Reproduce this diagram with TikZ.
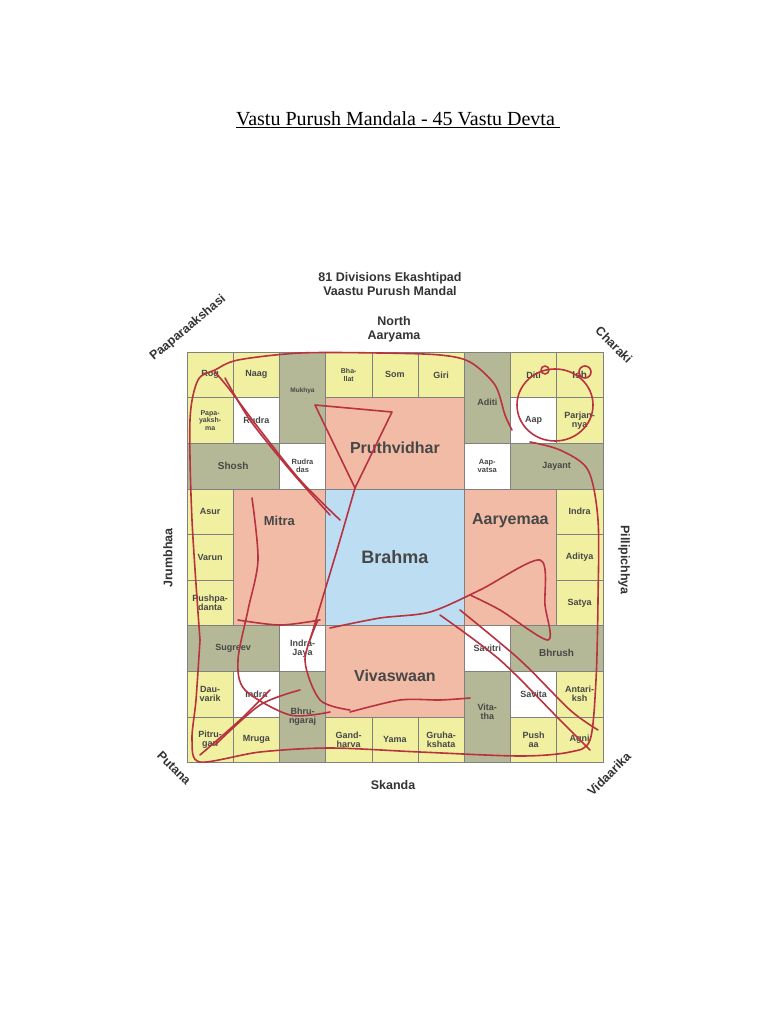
\documentclass[tikz,border=0pt]{standalone}
\usepackage{fontspec}
\setmainfont{Liberation Serif}
\setsansfont{Liberation Sans}
\definecolor{cyel}{HTML}{F0F0A0}
\definecolor{colv}{HTML}{B5B896}
\definecolor{csal}{HTML}{F2BBA6}
\definecolor{cblu}{HTML}{BCDDF2}
\definecolor{cred}{HTML}{B8323F}
\begin{document}
\begin{tikzpicture}[x=1pt,y=-1pt,
  cell/.style={draw=black!50,line width=0.6pt},
  yel/.style={cell,fill=cyel},
  olv/.style={cell,fill=colv},
  sal/.style={cell,fill=csal},
  wht/.style={cell,fill=white},
  blu/.style={cell,fill=cblu},
  lab/.style={font=\sffamily\bfseries\fontsize{9}{9}\selectfont,text=black!72,align=center,inner sep=0pt},
  big/.style={font=\sffamily\bfseries\fontsize{16}{16}\selectfont,text=black!72,inner sep=0pt},
  outl/.style={font=\sffamily\bfseries\fontsize{12.5}{14}\selectfont,text=black!80,align=center,inner sep=0pt},
  rl/.style={draw=cred,line width=1.6pt,line cap=round,line join=round}]
\useasboundingbox (0,0) rectangle (768,1024);
\def\X#1{187+46.2*#1}
\def\Y#1{352+45.6*#1}
\newcommand\cel[5]{\path[#1] ({\X{#2}},{\Y{#3}}) rectangle ({\X{#4}},{\Y{#5}});}
\cel{yel}{0}{0}{1}{1}\cel{yel}{1}{0}{2}{1}\cel{olv}{2}{0}{3}{2}\cel{yel}{3}{0}{4}{1}\cel{yel}{4}{0}{5}{1}\cel{yel}{5}{0}{6}{1}\cel{olv}{6}{0}{7}{2}\cel{yel}{7}{0}{8}{1}\cel{yel}{8}{0}{9}{1}
\cel{yel}{0}{1}{1}{2}\cel{wht}{1}{1}{2}{2}\cel{sal}{3}{1}{6}{3}\cel{wht}{7}{1}{8}{2}\cel{yel}{8}{1}{9}{2}
\cel{olv}{0}{2}{2}{3}\cel{wht}{2}{2}{3}{3}\cel{wht}{6}{2}{7}{3}\cel{olv}{7}{2}{9}{3}
\cel{yel}{0}{3}{1}{4}\cel{yel}{0}{4}{1}{5}\cel{yel}{0}{5}{1}{6}\cel{sal}{1}{3}{3}{6}\cel{blu}{3}{3}{6}{6}\cel{sal}{6}{3}{8}{6}\cel{yel}{8}{3}{9}{4}\cel{yel}{8}{4}{9}{5}\cel{yel}{8}{5}{9}{6}
\cel{olv}{0}{6}{2}{7}\cel{wht}{2}{6}{3}{7}\cel{sal}{3}{6}{6}{8}\cel{wht}{6}{6}{7}{7}\cel{olv}{7}{6}{9}{7}
\cel{yel}{0}{7}{1}{8}\cel{wht}{1}{7}{2}{8}\cel{olv}{2}{7}{3}{9}\cel{olv}{6}{7}{7}{9}\cel{wht}{7}{7}{8}{8}\cel{yel}{8}{7}{9}{8}
\cel{yel}{0}{8}{1}{9}\cel{yel}{1}{8}{2}{9}\cel{yel}{3}{8}{4}{9}\cel{yel}{4}{8}{5}{9}\cel{yel}{5}{8}{6}{9}\cel{yel}{7}{8}{8}{9}\cel{yel}{8}{8}{9}{9}
\node[lab] (rog) at ({\X{0.5}},{\Y{0.5}}) {Rog};
\node[lab] (naag) at ({\X{1.5}},{\Y{0.5}}) {Naag};
\node[lab,font=\sffamily\bfseries\fontsize{6.5}{6.5}\selectfont] (mukhya) at ({\X{2.5}},{\Y{0.85}}) {Mukhya};
\node[lab,font=\sffamily\bfseries\fontsize{7}{7.5}\selectfont] (bhallat) at ({\X{3.5}},{\Y{0.5}}) {Bha-\\llat};
\node[lab] (som) at ({\X{4.5}},{\Y{0.5}}) {Som};
\node[lab] (giri) at ({\X{5.5}},{\Y{0.5}}) {Giri};
\node[lab] (aditi) at ({\X{6.5}},{\Y{1.1}}) {Aditi};
\node[lab] (diti) at ({\X{7.5}},{\Y{0.5}}) {Diti};
\node[lab,font=\sffamily\bfseries\fontsize{10}{10}\selectfont] (ish) at ({\X{8.5}},{\Y{0.5}}) {Ish};
\node[lab,font=\sffamily\bfseries\fontsize{7}{7.5}\selectfont] (papa) at ({\X{0.5}},{\Y{1.5}}) {Papa-\\yaksh-\\ma};
\node[lab] (rudra) at ({\X{1.5}},{\Y{1.5}}) {Rudra};
\node[big] (pruth) at ({\X{4.5}},{\Y{2.1}}) {Pruthvidhar};
\node[lab] (aap) at ({\X{7.5}},{\Y{1.5}}) {Aap};
\node[lab] (parj) at ({\X{8.5}},{\Y{1.5}}) {Parjan-\\nya};
\node[lab,font=\sffamily\bfseries\fontsize{10}{10}\selectfont] (shosh) at ({\X{1}},{\Y{2.5}}) {Shosh};
\node[lab,font=\sffamily\bfseries\fontsize{7.5}{8.5}\selectfont] (rudradas) at ({\X{2.5}},{\Y{2.5}}) {Rudra\\das};
\node[lab,font=\sffamily\bfseries\fontsize{7.5}{8.5}\selectfont] (aapv) at ({\X{6.5}},{\Y{2.5}}) {Aap-\\vatsa};
\node[lab] (jayant) at ({\X{8}},{\Y{2.5}}) {Jayant};
\node[lab] (asur) at ({\X{0.5}},{\Y{3.5}}) {Asur};
\node[lab] (varun) at ({\X{0.5}},{\Y{4.5}}) {Varun};
\node[lab] (pushpa) at ({\X{0.5}},{\Y{5.5}}) {Pushpa-\\danta};
\node[big,font=\sffamily\bfseries\fontsize{13}{13}\selectfont] (mitra) at ({\X{2}},{\Y{3.7}}) {Mitra};
\node[big,font=\sffamily\bfseries\fontsize{18}{18}\selectfont] (brahma) at ({\X{4.5}},{\Y{4.5}}) {Brahma};
\node[big] (aaryemaa) at ({\X{7}},{\Y{3.7}}) {Aaryemaa};
\node[lab] (indra1) at ({\X{8.5}},{\Y{3.5}}) {Indra};
\node[lab] (aditya) at ({\X{8.5}},{\Y{4.5}}) {Aditya};
\node[lab] (satya) at ({\X{8.5}},{\Y{5.5}}) {Satya};
\node[lab] (sugreev) at ({\X{1}},{\Y{6.5}}) {Sugreev};
\node[lab] (indraj) at ({\X{2.5}},{\Y{6.5}}) {Indra-\\Jaya};
\node[big] (vivas) at ({\X{4.5}},{\Y{7.1}}) {Vivaswaan};
\node[lab] (savitri) at ({\X{6.5}},{\Y{6.5}}) {Savitri};
\node[lab,font=\sffamily\bfseries\fontsize{10}{10}\selectfont] (bhrush) at ({\X{8}},{\Y{6.6}}) {Bhrush};
\node[lab] (dauv) at ({\X{0.5}},{\Y{7.5}}) {Dau-\\varik};
\node[lab] (indra2) at ({\X{1.5}},{\Y{7.5}}) {Indra};
\node[lab] (bhrung) at ({\X{2.5}},{\Y{8}}) {Bhru-\\ngaraj};
\node[lab] (vitatha) at ({\X{6.5}},{\Y{7.9}}) {Vita-\\tha};
\node[lab] (savita) at ({\X{7.5}},{\Y{7.5}}) {Savita};
\node[lab] (antar) at ({\X{8.5}},{\Y{7.5}}) {Antari-\\ksh};
\node[lab] (pitru) at ({\X{0.5}},{\Y{8.5}}) {Pitru-\\gan};
\node[lab] (mruga) at ({\X{1.5}},{\Y{8.5}}) {Mruga};
\node[lab] (gand) at ({\X{3.5}},{\Y{8.5}}) {Gand-\\harva};
\node[lab] (yama) at ({\X{4.5}},{\Y{8.5}}) {Yama};
\node[lab] (gruha) at ({\X{5.5}},{\Y{8.5}}) {Gruha-\\kshata};
\node[lab] (pusha) at ({\X{7.5}},{\Y{8.5}}) {Push\\aa};
\node[lab] (agni) at ({\X{8.5}},{\Y{8.5}}) {Agni};
\node[font=\fontsize{20}{20}\selectfont,inner sep=0pt] (title) at (398,120) {\underline{Vastu Purush Mandala - 45 Vastu Devta\ }};
\node[outl] (head) at (390,284) {81 Divisions Ekashtipad\\Vaastu Purush Mandal};
\node[outl] (north) at (394,329) {North\\Aaryama};
\node[outl,rotate=40] (pr) at (188,328) {Paaparaakshasi};
\node[outl,rotate=-45] (ch) at (614,345) {Charaki};
\node[outl,rotate=90] (jr) at (168,558) {Jrumbhaa};
\node[outl,rotate=-90] (pi) at (624,560) {Pillipichhya};
\node[outl,rotate=-45] (pu) at (174,768) {Putana};
\node[outl] (sk) at (393,785) {Skanda};
\node[outl,rotate=45] (vi) at (609,774) {Vidaarika};
\draw[rl] plot[smooth] coordinates {(200,640)(192,520)(190,420)(198,380)(215,370)(238,360)(300,353)(380,353)(440,355)(470,362)(495,385)(505,415)(512,430)};
\draw[rl] (555,405) ellipse (38 and 36);
\draw[rl] (545,370) circle (4); \draw[rl] (585,372) circle (6);
\draw[rl] plot[smooth] coordinates {(530,442)(560,450)(588,470)(598,520)(598,600)(596,680)(590,740)(570,752)(520,756)(420,752)(330,748)(260,752)(200,762)(192,740)(196,700)(200,640)};
\draw[rl] plot[smooth] coordinates {(215,372)(230,390)(260,430)(300,480)(340,520)};
\draw[rl] plot[smooth] coordinates {(225,378)(250,420)(290,470)(330,515)};
\draw[rl] (315,405) -- (392,412) -- (355,488) -- cycle;
\draw[rl] plot[smooth] coordinates {(355,488)(340,540)(325,590)(310,640)};
\draw[rl] plot[smooth] coordinates {(252,498)(258,560)(248,610)(238,660)(245,690)(290,715)(330,712)};
\draw[rl] plot[smooth] coordinates {(238,620)(280,625)(320,620)};
\draw[rl] plot[smooth] coordinates {(318,620)(305,660)(320,700)(350,710)};
\draw[rl] plot[smooth] coordinates {(215,745)(260,705)(300,690)};
\draw[rl] plot[smooth] coordinates {(200,755)(240,720)(270,690)};
\draw[rl] plot[smooth] coordinates {(330,628)(380,618)(430,612)(480,590)(540,560)(545,605)(548,640)(500,610)(470,595)};
\draw[rl] plot[smooth] coordinates {(440,615)(500,660)(560,720)(590,750)};
\draw[rl] plot[smooth] coordinates {(460,610)(520,660)(570,710)(598,730)};
\draw[rl] plot[smooth] coordinates {(350,712)(400,700)(440,700)(470,698)};
\end{tikzpicture}
\end{document}
